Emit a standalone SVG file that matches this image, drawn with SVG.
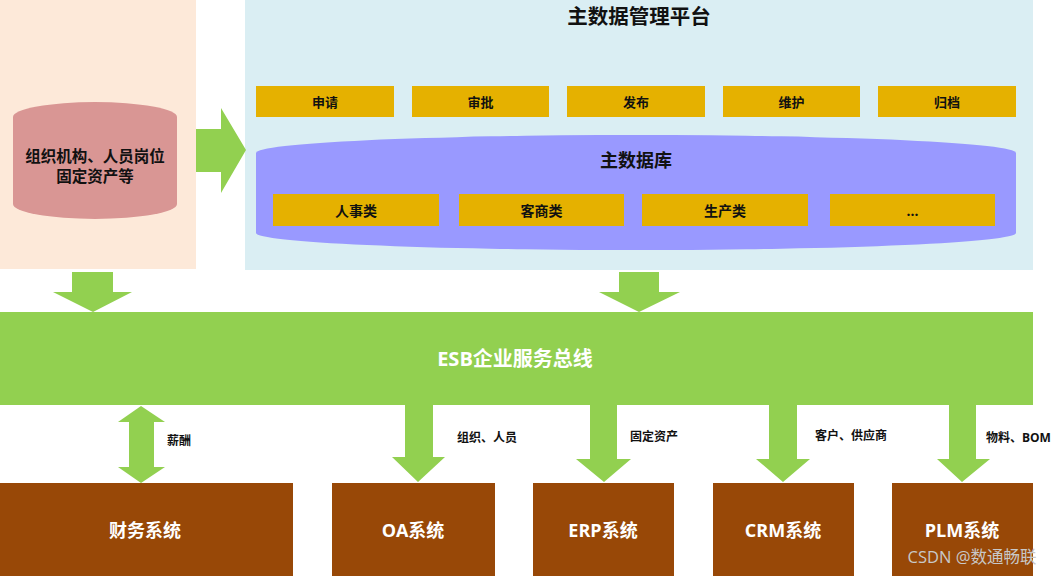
<svg xmlns="http://www.w3.org/2000/svg" width="1056" height="576" viewBox="0 0 1056 576">
<style>
text{font-family:"Open Sans","Noto Sans CJK SC",sans-serif;font-weight:bold;text-anchor:middle;dominant-baseline:central;fill:#111}
.g{fill:#E5B100}
.arr{fill:#92D050}
.box{fill:#984807}
.lbl{font-size:12px;text-anchor:start}
.sys{font-size:18px;fill:#fff}
.op{font-size:13px}
.cat{font-size:14px}
</style>
<rect width="1056" height="576" fill="#fff"/>
<g id="source-panel">
<rect x="0" y="0" width="196" height="269" fill="#FDE9D9"/>
</g>
<g id="source-db">
<path d="M13,117 A82,15 0 0 1 177,117 L177,204 A82,15 0 0 1 13,204 Z" fill="#D99694"/>
<text x="95" y="156" font-size="15.5">组织机构、人员岗位</text>
<text x="95" y="176" font-size="15.5">固定资产等</text>
</g>
<g id="mdm-platform">
<rect x="245" y="0" width="788" height="270" fill="#DAEEF3"/>
<text x="639" y="16" font-size="20.5">主数据管理平台</text>
</g>
<g id="op-apply"><rect class="g" x="256" y="86" width="138" height="31"/><text class="op" x="325" y="101.5">申请</text></g>
<g id="op-approve"><rect class="g" x="412" y="86" width="137" height="31"/><text class="op" x="480.5" y="101.5">审批</text></g>
<g id="op-publish"><rect class="g" x="567" y="86" width="138" height="31"/><text class="op" x="636" y="101.5">发布</text></g>
<g id="op-maintain"><rect class="g" x="723" y="86" width="137" height="31"/><text class="op" x="791.5" y="101.5">维护</text></g>
<g id="op-archive"><rect class="g" x="878" y="86" width="138" height="31"/><text class="op" x="947" y="101.5">归档</text></g>
<g id="master-db">
<path d="M256,153 A380,18 0 0 1 1016,153 L1016,233 A380,17 0 0 1 256,233 Z" fill="#9999FF"/>
<text x="636" y="160" font-size="18">主数据库</text>
</g>
<g id="cat-hr"><rect class="g" x="273" y="194" width="166" height="32"/><text class="cat" x="356" y="210">人事类</text></g>
<g id="cat-customer"><rect class="g" x="459" y="194" width="165" height="32"/><text class="cat" x="541.5" y="210">客商类</text></g>
<g id="cat-production"><rect class="g" x="642" y="194" width="166" height="32"/><text class="cat" x="725" y="210">生产类</text></g>
<g id="cat-more"><rect class="g" x="830" y="194" width="165" height="32"/><text class="cat" x="912.5" y="210">…</text></g>
<g id="esb">
<rect class="arr" x="0" y="312" width="1033" height="93"/>
<text x="515" y="358" font-size="20" style="fill:#fff">ESB企业服务总线</text>
</g>
<g id="sys-finance"><rect class="box" x="0" y="483" width="293" height="93"/><text class="sys" x="145" y="530">财务系统</text></g>
<g id="sys-oa"><rect class="box" x="332" y="483" width="163" height="93"/><text class="sys" x="413" y="530">OA系统</text></g>
<g id="sys-erp"><rect class="box" x="533" y="483" width="141" height="93"/><text class="sys" x="603" y="530">ERP系统</text></g>
<g id="sys-crm"><rect class="box" x="713" y="483" width="141" height="93"/><text class="sys" x="783" y="530">CRM系统</text></g>
<g id="sys-plm"><rect class="box" x="892" y="483" width="141" height="93"/><text class="sys" x="962" y="530">PLM系统</text></g>
<g id="connectors">
<polygon class="arr" points="196,129 221,129 221,108 246,150 221,193 221,172 196,172"/>
<polygon class="arr" points="72,272 113,272 113,292 132,292 93,312 53,292 72,292"/>
<polygon class="arr" points="619,272 659,272 659,292 680,292 639,312 599,292 619,292"/>
<polygon class="arr" points="141,406 165,422 154,422 154,467 165,467 141,483 118,467 129,467 129,422 118,422"/>
<polygon class="arr" points="405,405 433,405 433,457 445,457 418,482 392,457 405,457"/>
<polygon class="arr" points="590,405 617,405 617,459 631,459 604,482 576,459 590,459"/>
<polygon class="arr" points="769,405 797,405 797,459 810,459 783,482 756,459 769,459"/>
<polygon class="arr" points="949,405 976,405 976,459 990,459 962,482 937,459 949,459"/>
<text class="lbl" x="167" y="440">薪酬</text>
<text class="lbl" x="457" y="437">组织、人员</text>
<text class="lbl" x="630" y="436">固定资产</text>
<text class="lbl" x="815" y="435">客户、供应商</text>
<text class="lbl" x="986" y="437">物料、BOM</text>
</g>
<text x="972" y="556" font-size="16.5" style="font-weight:normal;fill:#c8c8c8">CSDN @数通畅联</text>
</svg>
